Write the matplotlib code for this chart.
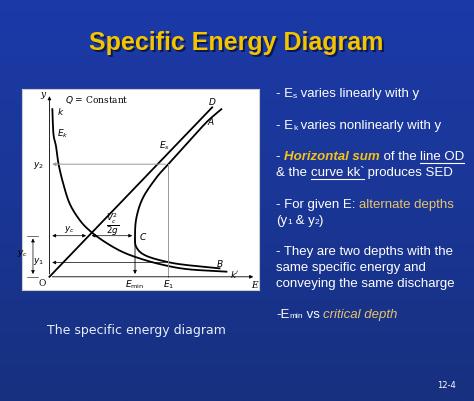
import numpy as np
import matplotlib.pyplot as plt

# curve kk' (kinetic energy)
k_E = [0.08, 0.11, 0.18, 0.25, 0.38, 0.56, 0.84, 1.11, 1.47, 1.93, 2.38, 3.0, 3.75, 4.84]
k_y = [4.57, 3.89, 3.56, 3.07, 2.53, 1.98, 1.53, 1.25, 0.98, 0.71, 0.53, 0.35, 0.21, 0.14]
# specific energy curve B-C-A
s_E = [4.65, 3.93, 3.29, 2.65, 2.38, 2.34, 2.38, 2.56, 2.93, 3.25, 3.75, 4.29, 4.7]
s_y = [0.23, 0.30, 0.39, 0.57, 0.80, 1.12, 1.62, 2.16, 2.71, 3.07, 3.62, 4.21, 4.57]
# line OD
od_E = [0, 4.45]
od_y = [0, 4.62]
y2, y1, yc = 3.07, 0.39, 1.12
E1, Emin = 3.25, 2.34

bullets = [
    [("- E", "w", {}), ("s", "w", {"size": 6}), (" varies linearly with y", "w", {})],
    [("- E", "w", {}), ("k", "w", {"size": 6}), (" varies nonlinearly with y", "w", {})],
    [("- ", "w", {}), ("Horizontal sum", "#f2c21b", {"weight": "bold", "style": "italic"}),
     (" of the ", "w", {}), ("line OD", "w", {"u": 1})],
    [("& the ", "w", {}), ("curve kk`", "w", {"u": 1}), (" produces SED", "w", {})],
    [("- For given E: ", "w", {}), ("alternate depths", "#e6c46a", {})],
    [("(y", "w", {}), ("1", "w", {"size": 6}), (" & y", "w", {}), ("2", "w", {"size": 6}), (")", "w", {})],
    [("- They are two depths with the", "w", {})],
    [("same specific energy and", "w", {})],
    [("conveying the same discharge", "w", {})],
    [("-E", "w", {}), ("min", "w", {"size": 6}), (" vs ", "w", {}), ("critical depth", "#e6c46a", {"style": "italic"})],
]
bullet_y = [94, 126, 157, 173, 205, 221, 252, 268, 284, 315]


def catmull(xs, ys, n=20):
    p = np.column_stack([xs, ys]).astype(float)
    p = np.vstack([2 * p[0] - p[1], p, 2 * p[-1] - p[-2]])
    out = []
    for i in range(1, len(p) - 2):
        p0, p1, p2, p3 = p[i - 1], p[i], p[i + 1], p[i + 2]
        for t in np.linspace(0, 1, n, endpoint=False):
            out.append(0.5 * (2 * p1 + (-p0 + p2) * t + (2 * p0 - 5 * p1 + 4 * p2 - p3) * t**2
                              + (-p0 + 3 * p1 - 3 * p2 + p3) * t**3))
    out.append(p[-2])
    out = np.array(out)
    return out[:, 0], out[:, 1]


fig = plt.figure(figsize=(4.74, 4.02), dpi=100)
bg = fig.add_axes([0, 0, 1, 1])
grad = np.linspace(0, 1, 256).reshape(-1, 1)
bg.imshow(grad, aspect="auto", extent=[0, 474, 402, 0],
          cmap=plt.matplotlib.colors.LinearSegmentedColormap.from_list("b", ["#1c3aa8", "#1a3696", "#17307f"]))
bg.set_xlim(0, 474)
bg.set_ylim(402, 0)
bg.axis("off")

bg.text(238, 45, "Specific Energy Diagram", color="#0a1a50", fontsize=18, weight="bold",
        ha="center", va="center", family="Liberation Sans")
bg.text(236, 43, "Specific Energy Diagram", color="#f5c400", fontsize=18, weight="bold",
        ha="center", va="center", family="Liberation Sans")
bg.text(136, 331, "The specific energy diagram", color="#e8eef8", fontsize=9, ha="center", va="center")
bg.text(446, 386, "12-4", color="w", fontsize=6, ha="center", va="center")

fig.canvas.draw()
r = fig.canvas.get_renderer()
for line, yy in zip(bullets, bullet_y):
    x = 276
    for txt, col, opt in line:
        size = opt.get("size", 9.5)
        dy = 2 if size < 9 else 0
        t = bg.text(x, yy + dy, txt, color=col, fontsize=size, family="Liberation Sans",
                    weight=opt.get("weight", "normal"), style=opt.get("style", "normal"),
                    ha="left", va="center")
        bb = t.get_window_extent(r)
        w = bb.width * 474 / fig.bbox.width
        if opt.get("u"):
            bg.plot([x, x + w], [yy + 7, yy + 7], color="w", lw=0.8)
        x += w

# diagram panel
ax = fig.add_axes([22 / 474, (402 - 291) / 402, 237 / 474, 201 / 402])
ax.set_facecolor("white")
ax.set_xlim(-0.75, 5.73)
ax.set_ylim(-0.36, 5.12)
ax.set_xticks([])
ax.set_yticks([])
for s in ax.spines.values():
    s.set_color("#cccccc")

kw = dict(color="black", lw=1.3)
ax.annotate("", xy=(5.65, 0), xytext=(0, 0), arrowprops=dict(arrowstyle="-|>", lw=0.6, color="k", mutation_scale=5))
ax.annotate("", xy=(0, 5.0), xytext=(0, 0), arrowprops=dict(arrowstyle="-|>", lw=0.6, color="k", mutation_scale=5))

ax.plot(*catmull(k_E, k_y), **kw)
ax.plot(*catmull(s_E, s_y), **kw)
ax.plot(od_E, od_y, **kw)

g = "#999999"
ax.annotate("", xy=(0, y2), xytext=(E1, y2), arrowprops=dict(arrowstyle="-|>", color=g, lw=0.7, mutation_scale=5))
ax.plot([E1, E1], [0, y2], color=g, lw=0.7)
ax.annotate("", xy=(0, y1), xytext=(E1, y1), arrowprops=dict(arrowstyle="-|>", color="k", lw=0.5, mutation_scale=5))
ax.annotate("", xy=(Emin, 0), xytext=(Emin, yc), arrowprops=dict(arrowstyle="-|>", color="k", lw=0.6, mutation_scale=5))
ax.annotate("", xy=(0, yc), xytext=(yc * 0.963, yc), arrowprops=dict(arrowstyle="<|-|>", color="k", lw=0.5, mutation_scale=5))
ax.annotate("", xy=(yc * 0.963, yc), xytext=(Emin, yc), arrowprops=dict(arrowstyle="<|-|>", color="k", lw=0.5, mutation_scale=5))
ax.annotate("", xy=(-0.45, 0), xytext=(-0.45, yc), arrowprops=dict(arrowstyle="<|-|>", color="k", lw=0.5, mutation_scale=5))
ax.plot([-0.6, -0.3], [yc, yc], color="k", lw=0.4)
ax.plot([-0.6, -0.3], [0, 0], color="k", lw=0.4)

f = dict(family="DejaVu Serif", fontsize=6.5, color="k")
ax.text(-0.1, 5.0, "y", style="italic", ha="right", va="center", **f)
ax.text(5.7, -0.2, "E", style="italic", ha="right", va="center", **f)
ax.text(-0.2, -0.15, "O", ha="center", va="center", **f)
ax.text(1.3, 4.85, "$Q$ = Constant", ha="center", va="center", **f)
ax.text(0.22, 4.53, "$k$", ha="left", va="center", **f)
ax.text(0.2, 3.92, "$E_k$", ha="left", va="center", **f)
ax.text(3.0, 3.6, "$E_s$", ha="left", va="center", **f)
ax.text(4.45, 4.8, "$D$", ha="center", va="center", **f)
ax.text(4.42, 4.27, "$A$", ha="center", va="center", **f)
ax.text(2.45, 1.12, "$C$", ha="left", va="center", **f)
ax.text(4.56, 0.4, "$B$", ha="left", va="center", **f)
ax.text(4.95, 0.1, "$k'$", ha="left", va="center", **f)
ax.text(-0.15, y2, "$y_2$", ha="right", va="center", **f)
ax.text(-0.15, y1 + 0.05, "$y_1$", ha="right", va="center", **f)
ax.text(-0.58, 0.65, "$y_c$", ha="right", va="center", **f)
ax.text(0.55, 1.32, "$y_c$", ha="center", va="center", **f)
ax.text(1.72, 1.45, r"$\frac{V_c^2}{2g}$", ha="center", va="center", family="DejaVu Serif", fontsize=9, color="k")
ax.text(Emin, -0.2, "$E_{\\min}$", ha="center", va="center", **f)
ax.text(E1, -0.2, "$E_1$", ha="center", va="center", **f)

fig.savefig("out.png", dpi=100)
